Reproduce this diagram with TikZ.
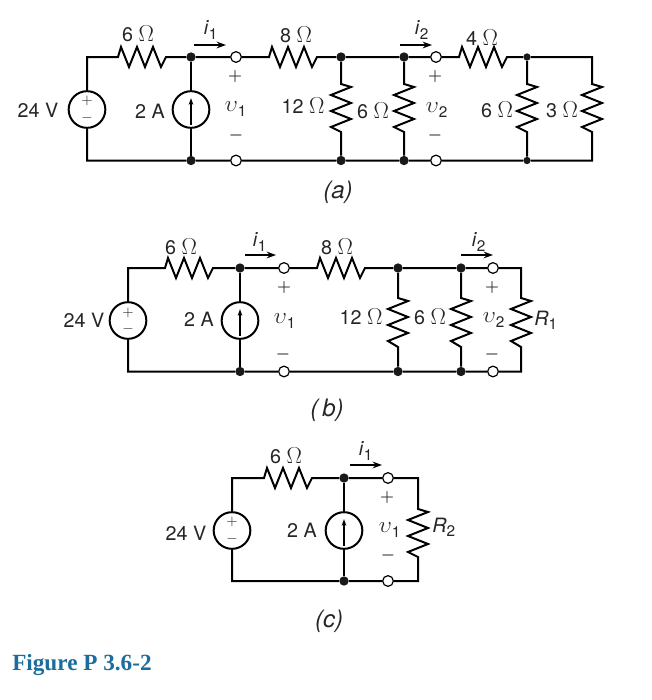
\documentclass[tikz,border=0pt]{standalone}
\usepackage{fontspec}
\setmainfont{TeX Gyre Heros}
\newfontfamily\capfont{Liberation Serif}
\usepackage{xcolor}
\usetikzlibrary{arrows.meta}
\definecolor{capblue}{RGB}{28,108,158}
\newcommand{\lsub}[1]{$_{\mbox{\fontsize{11.5}{13}\selectfont #1}}$}
\newcommand{\ohm}{{\fontsize{17}{17}\selectfont$\Omega$}}
\newcommand{\volt}{{\fontsize{17}{17}\selectfont$\upsilon$}}
\tikzset{
  wire/.style={line width=1.5pt},
  junc/.style={circle,fill=black!90,inner sep=0pt,minimum size=7pt},
  juncsmall/.style={circle,fill=black!90,inner sep=0pt,minimum size=5.5pt},
  term/.style={circle,draw,fill=white,line width=0.9pt,inner sep=0pt,minimum size=8pt},
  source/.style={circle,draw,fill=white,line width=1.5pt,inner sep=0pt,minimum size=27.5pt},
  reshor/.style={to path={-- ++(3,-10) -- ++(8,20) -- ++(8,-20) -- ++(8,20) -- ++(8,-20) -- ++(8,20) -- (\tikztotarget)}},
  resver/.style={to path={-- ++(10,3) -- ++(-20,8) -- ++(20,8) -- ++(-20,8) -- ++(20,8) -- ++(-20,8) -- (\tikztotarget)}},
  flow/.style={line width=1.2pt,-{Stealth[length=7pt,width=5pt]}},
  inflow/.style={line width=0.8pt,-{Stealth[length=5pt,width=3.5pt]},shorten >=6pt,shorten <=3pt},
  lab/.style={inner sep=0.75pt,text=black!85,font=\fontsize{14.8}{17}\selectfont},
  sign/.style={inner sep=0pt,text=black!85,font=\fontsize{12}{14}\selectfont\boldmath},
  signsmall/.style={inner sep=0pt,text=black!85,font=\fontsize{10.5}{12}\selectfont},
  partlab/.style={inner sep=0.75pt,text=black!85,font=\fontsize{18}{20}\selectfont\itshape},
}
\begin{document}
\begin{tikzpicture}[x=0.75pt,y=0.75pt,yscale=-1,xscale=1]
\useasboundingbox (0,0) rectangle (651,700);

%Circuit (a)
\node [source] (a-vs) at (87,109.5) {};
\node [source] (a-is) at (191,109.5) {};
\node [junc] (a-n1) at (191,57) {};
\node [junc] (a-n1b) at (191,160.5) {};
\node [term] (a-t1) at (236,57) {};
\node [term] (a-t1b) at (236,160.5) {};
\node [junc] (a-n2) at (341,57) {};
\node [junc] (a-n2b) at (341,160.5) {};
\node [junc] (a-n3) at (404,57) {};
\node [junc] (a-n3b) at (404,160.5) {};
\node [term] (a-t2) at (436,57) {};
\node [term] (a-t2b) at (436,160.5) {};
\node [juncsmall] (a-n4) at (527,57) {};
\node [juncsmall] (a-n4b) at (527,160.5) {};
\coordinate (a-r6l) at (118,57);
\coordinate (a-r6r) at (166,57);
\coordinate (a-r8l) at (269,57);
\coordinate (a-r8r) at (317,57);
\coordinate (a-r4l) at (459,57);
\coordinate (a-r4r) at (507,57);
\coordinate (a-r12t) at (341,84);
\coordinate (a-r12b) at (341,132);
\coordinate (a-r6bt) at (404,84);
\coordinate (a-r6bb) at (404,132);
\coordinate (a-r6ct) at (527,84);
\coordinate (a-r6cb) at (527,132);
\coordinate (a-r3t) at (592,84);
\coordinate (a-r3b) at (592,132);
\coordinate (a-i1s) at (194,45);
\coordinate (a-i1e) at (226,45);
\coordinate (a-i2s) at (400,45);
\coordinate (a-i2e) at (432,45);
\draw [wire] (a-vs) |- (a-r6l) to [reshor] (a-r6r) -- (a-n1) -- (a-t1) -- (a-r8l) to [reshor] (a-r8r) -- (a-n2) -- (a-n3) -- (a-t2) -- (a-r4l) to [reshor] (a-r4r) -- (a-n4) -| (a-r3t) to [resver] (a-r3b) |- (a-n4b) -- (a-t2b) -- (a-n3b) -- (a-n2b) -- (a-t1b) -- (a-n1b) -| (a-vs);
\draw [wire] (a-n1) -- (a-is) -- (a-n1b);
\draw [wire] (a-n2) -- (a-r12t) to [resver] (a-r12b) -- (a-n2b);
\draw [wire] (a-n3) -- (a-r6bt) to [resver] (a-r6bb) -- (a-n3b);
\draw [wire] (a-n4) -- (a-r6ct) to [resver] (a-r6cb) -- (a-n4b);
\draw [inflow] (a-is.south) -- (a-is.north);
\draw [flow] (a-i1s) -- (a-i1e);
\draw [flow] (a-i2s) -- (a-i2e);

% Text Node
\node [lab] (a-l6) at (138,33.5) {6 \ohm};
\node [lab] (a-l8) at (296,34.5) {8 \ohm};
\node [lab] (a-l4) at (482,37.5) {4 \ohm};
\node [lab] (a-li1) at (211,30) {\textit{i}\lsub{1}};
\node [lab] (a-li2) at (422,30) {\textit{i}\lsub{2}};
\node [lab] (a-l24) at (38,110) {24 V};
\node [lab] (a-l2) at (150,111) {2 A};
\node [lab] (a-lv1) at (236,109) {\volt\lsub{1}};
\node [lab] (a-lv2) at (437,110) {\volt\lsub{2}};
\node [sign] (a-p1) at (235,76) {$+$};
\node [sign] (a-m1) at (236,135) {$-$};
\node [sign] (a-p2) at (435,76) {$+$};
\node [sign] (a-m2) at (435,135) {$-$};
\node [signsmall] (a-ps) at (87,101) {$+$};
\node [signsmall] (a-ms) at (87,118) {$-$};
\node [lab] (a-l12) at (303,106) {12 \ohm};
\node [lab] (a-l6b) at (373,111) {6 \ohm};
\node [lab] (a-l6c) at (497,110) {6 \ohm};
\node [lab] (a-l3) at (562,110) {3 \ohm};
\node [partlab] (a-cap) at (338,192) {(a)};

%Circuit (b)
\node [source] (b-vs) at (128,320.5) {};
\node [source] (b-is) at (240,320.5) {};
\node [junc] (b-n1) at (240,268) {};
\node [junc] (b-n1b) at (240,371.5) {};
\node [term] (b-t1) at (284,268) {};
\node [term] (b-t1b) at (284,371.5) {};
\node [junc] (b-n2) at (398,268) {};
\node [junc] (b-n2b) at (398,371.5) {};
\node [junc] (b-n3) at (461,268) {};
\node [junc] (b-n3b) at (461,371.5) {};
\node [term] (b-t2) at (493,268) {};
\node [term] (b-t2b) at (493,371.5) {};
\coordinate (b-r6l) at (165,268);
\coordinate (b-r6r) at (213,268);
\coordinate (b-r8l) at (317,268);
\coordinate (b-r8r) at (365,268);
\coordinate (b-r12t) at (398,298);
\coordinate (b-r12b) at (398,347);
\coordinate (b-r6bt) at (461,298);
\coordinate (b-r6bb) at (461,347);
\coordinate (b-r1t) at (521,298);
\coordinate (b-r1b) at (521,347);
\coordinate (b-i1s) at (245,255);
\coordinate (b-i1e) at (276,255);
\coordinate (b-i2s) at (461,255);
\coordinate (b-i2e) at (493,255);
\draw [wire] (b-vs) |- (b-r6l) to [reshor] (b-r6r) -- (b-n1) -- (b-t1) -- (b-r8l) to [reshor] (b-r8r) -- (b-n2) -- (b-n3) -- (b-t2) -| (b-r1t) to [resver] (b-r1b) |- (b-t2b) -- (b-n3b) -- (b-n2b) -- (b-t1b) -- (b-n1b) -| (b-vs);
\draw [wire] (b-n1) -- (b-is) -- (b-n1b);
\draw [wire] (b-n2) -- (b-r12t) to [resver] (b-r12b) -- (b-n2b);
\draw [wire] (b-n3) -- (b-r6bt) to [resver] (b-r6bb) -- (b-n3b);
\draw [inflow] (b-is.south) -- (b-is.north);
\draw [flow] (b-i1s) -- (b-i1e);
\draw [flow] (b-i2s) -- (b-i2e);

% Text Node
\node [lab] (b-l6) at (181,247) {6 \ohm};
\node [lab] (b-l8) at (337,246.5) {8 \ohm};
\node [lab] (b-li1) at (260,242) {\textit{i}\lsub{1}};
\node [lab] (b-li2) at (479,242) {\textit{i}\lsub{2}};
\node [lab] (b-l24) at (84,320) {24 V};
\node [lab] (b-l2) at (199,319) {2 A};
\node [lab] (b-lv1) at (285,321) {\volt\lsub{1}};
\node [lab] (b-lv2) at (494,320) {\volt\lsub{2}};
\node [sign] (b-p1) at (284,287) {$+$};
\node [sign] (b-m1) at (283,354) {$-$};
\node [sign] (b-p2) at (492,287) {$+$};
\node [sign] (b-m2) at (492,354) {$-$};
\node [signsmall] (b-ps) at (128,313) {$+$};
\node [signsmall] (b-ms) at (128,329) {$-$};
\node [lab] (b-l12) at (361,317) {12 \ohm};
\node [lab] (b-l6b) at (430,317) {6 \ohm};
\node [lab] (b-lr1) at (546,320) {\textit{R}\lsub{1}};
\node [partlab] (b-cap) at (327,410) {(\,b)};

%Circuit (c)
\node [source] (c-vs) at (232,530.5) {};
\node [source] (c-is) at (344,530.5) {};
\node [junc] (c-n1) at (344,478) {};
\node [junc] (c-n1b) at (344,581) {};
\node [term] (c-t1) at (388,478) {};
\node [term] (c-t1b) at (388,581) {};
\coordinate (c-r6l) at (264,478);
\coordinate (c-r6r) at (312,478);
\coordinate (c-r2t) at (418,509);
\coordinate (c-r2b) at (418,557);
\coordinate (c-i1s) at (350,465);
\coordinate (c-i1e) at (382,465);
\draw [wire] (c-vs) |- (c-r6l) to [reshor] (c-r6r) -- (c-n1) -- (c-t1) -| (c-r2t) to [resver] (c-r2b) |- (c-t1b) -- (c-n1b) -| (c-vs);
\draw [wire] (c-n1) -- (c-is) -- (c-n1b);
\draw [inflow] (c-is.south) -- (c-is.north);
\draw [flow] (c-i1s) -- (c-i1e);

% Text Node
\node [lab] (c-l6) at (286,455.5) {6 \ohm};
\node [lab] (c-li1) at (366,451) {\textit{i}\lsub{1}};
\node [lab] (c-l24) at (186,533) {24 V};
\node [lab] (c-l2) at (302,530) {2 A};
\node [lab] (c-lv1) at (390,530) {\volt\lsub{1}};
\node [sign] (c-p1) at (387,497) {$+$};
\node [sign] (c-m1) at (388,555) {$-$};
\node [signsmall] (c-ps) at (232,522) {$+$};
\node [signsmall] (c-ms) at (232,539) {$-$};
\node [lab] (c-lr2) at (444,527) {\textit{R}\lsub{2}};
\node [partlab] (c-cap) at (329,621) {(c)};

% Caption
\node [anchor=base west,inner sep=0pt,text=capblue,font=\capfont\bfseries\fontsize{17.4}{20}\selectfont] (fig-cap) at (12,670) {Figure P 3.6-2};

\end{tikzpicture}
\end{document}
